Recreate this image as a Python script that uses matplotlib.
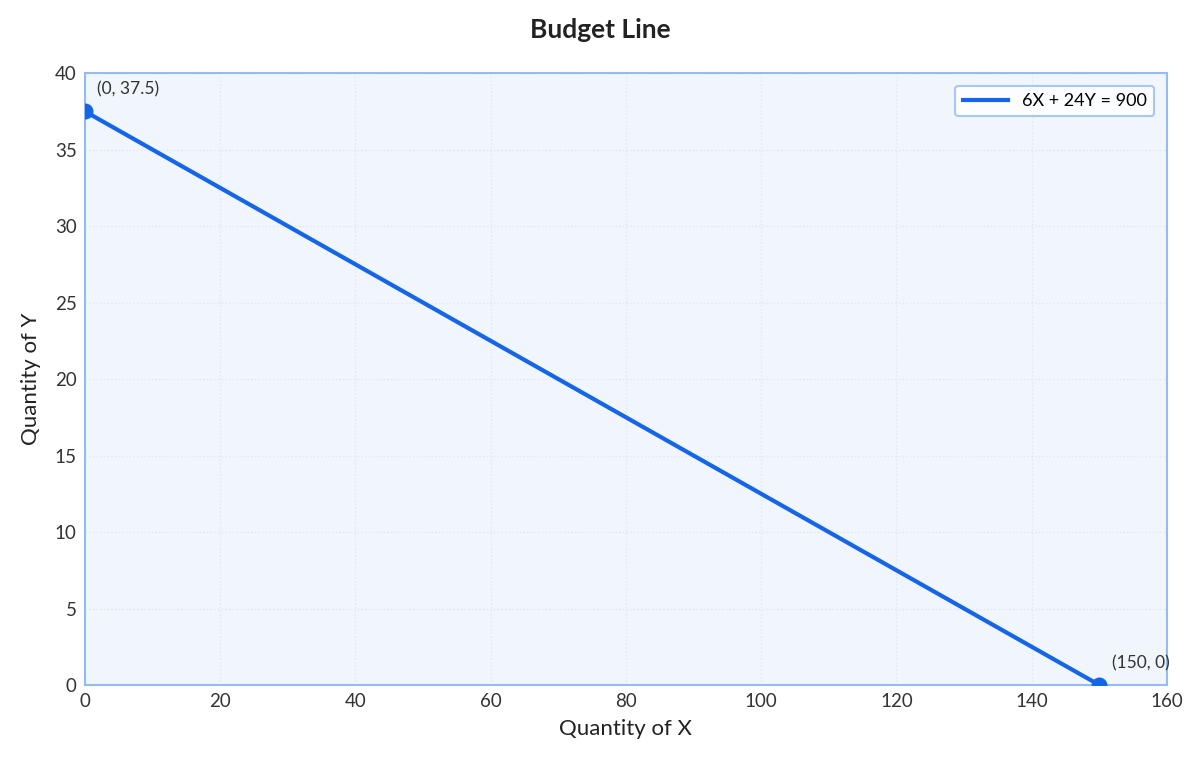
import numpy as np
import matplotlib
matplotlib.use("Agg")
import matplotlib.pyplot as plt

plt.rcParams['font.family'] = ['Lato', 'DejaVu Sans']

x_vals = [0, 150]
y_vals = [37.5, 0]
line_label = "6X + 24Y = 900"
point_labels = ["(0, 37.5)", "(150, 0)"]

blue = "#1565e8"
edge = "#93bbf5"

fig = plt.figure(figsize=(12, 7.62), dpi=100)
ax = fig.add_axes([0.0708, 0.101, 0.9017, 0.803])
ax.set_facecolor("#f1f6fd")

ax.plot(x_vals, y_vals, color=blue, lw=3, label=line_label)
ax.scatter(x_vals, y_vals, color=blue, s=110, zorder=3)
for xv, yv, t in zip(x_vals, y_vals, point_labels):
    ax.annotate(t, (xv, yv), xytext=(9, 12), textcoords="offset points",
                fontsize=12.5, color="#333333")

ax.set_xlim(0, 160)
ax.set_ylim(0, 40)
ax.set_xticks(np.arange(0, 161, 20))
ax.set_yticks(np.arange(0, 41, 5))
ax.tick_params(length=0, labelsize=13.5, colors="#333333", pad=6)
ax.grid(True, linestyle=":", color="#e1e7ef", lw=1)
for s in ax.spines.values():
    s.set_color(edge)
    s.set_linewidth(1.5)

ax.set_xlabel("Quantity of X", fontsize=16, color="#222222", labelpad=6)
ax.set_ylabel("Quantity of Y", fontsize=16, color="#222222", labelpad=10)
fig.suptitle("Budget Line", fontsize=19, fontweight="bold", color="#222222",
             y=0.96, va="center")

leg = ax.legend(loc="upper right", fontsize=13, frameon=True, handlelength=2.5,
                borderaxespad=0.7)
leg.get_frame().set_edgecolor(edge)
leg.get_frame().set_facecolor("white")
leg.get_frame().set_linewidth(1.5)

fig.savefig("out.png", dpi=100)
